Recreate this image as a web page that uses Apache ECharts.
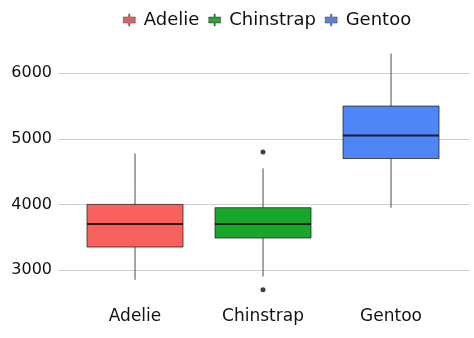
<!DOCTYPE html>
<html>
<head>
<meta charset="utf-8">
<script src="https://cdn.jsdelivr.net/npm/echarts@6/dist/echarts.min.js"></script>
<style>html,body{margin:0;padding:0;background:#fff;}#c{width:474px;height:338px;}</style>
</head>
<body>
<div id="c"></div>
<script>
// Data (Palmer penguins body mass, g)
const species = ['Adelie', 'Chinstrap', 'Gentoo'];
const whiskerLow = [2850, 2900, 3950];
const q1 = [3350, 3487.5, 4700];
const median = [3700, 3700, 5050];
const q3 = [4000, 3950, 5500];
const whiskerHigh = [4775, 4550, 6300];
const outlierSpecies = ['Chinstrap', 'Chinstrap'];
const outlierValues = [4800, 2700];
const yTicks = [3000, 4000, 5000, 6000];
const colors = ['#f8615c', '#17a82b', '#4f86f7'];

const FONT = 'DejaVu Sans';

function renderBox(params, api) {
  const x = api.value(0);
  const lo = api.coord([x, api.value(1)]);
  const b1 = api.coord([x, api.value(2)]);
  const md = api.coord([x, api.value(3)]);
  const b3 = api.coord([x, api.value(4)]);
  const hi = api.coord([x, api.value(5)]);
  const w = api.size([1, 0])[0] * 0.75;
  const cx = lo[0];
  const color = api.visual('color');
  return {
    type: 'group',
    children: [
      {type: 'line', shape: {x1: cx, y1: hi[1], x2: cx, y2: b3[1]}, style: {stroke: '#4a4a4a', lineWidth: 1}},
      {type: 'line', shape: {x1: cx, y1: b1[1], x2: cx, y2: lo[1]}, style: {stroke: '#4a4a4a', lineWidth: 1}},
      {type: 'rect', shape: {x: cx - w / 2, y: b3[1], width: w, height: b1[1] - b3[1]},
        style: {fill: color, stroke: 'rgba(40,30,30,0.75)', lineWidth: 1}},
      {type: 'line', shape: {x1: cx - w / 2, y1: md[1], x2: cx + w / 2, y2: md[1]},
        style: {stroke: 'rgba(20,10,10,0.85)', lineWidth: 2}}
    ]
  };
}

const boxSeries = species.map((s, i) => ({
  name: s,
  type: 'custom',
  xAxisIndex: 1,
  yAxisIndex: 1,
  color: colors[i],
  renderItem: renderBox,
  encode: {x: 0, y: [1, 2, 3, 4, 5]},
  data: [[i, whiskerLow[i], q1[i], median[i], q3[i], whiskerHigh[i]]]
}));

const chart = echarts.init(document.getElementById('c'), null, {renderer: 'canvas'});
chart.setOption({
  backgroundColor: '#fff',
  animation: false,
  legend: {
    data: species,
    left: 118,
    top: 6,
    itemWidth: 13,
    itemHeight: 12,
    itemGap: 9,
    icon: 'path://M5.4,0h1.2v3h5.4v2.6h-12v-2.6h5.4z M0,6.4h12v2.6h-5.4v3h-1.2v-3h-5.4z',
    itemStyle: {borderColor: 'rgba(40,30,30,0.7)', borderWidth: 0.6},
    textStyle: {fontFamily: FONT, fontSize: 18, color: '#111', padding: [0, 0, 0, 3]}
  },
  grid: [
    {left: 58, right: 4, top: 73.3, bottom: 68},
    {left: 71, right: 19, top: 47.07, bottom: 41.8}
  ],
  xAxis: [
    {type: 'value', gridIndex: 0, show: false, min: 0, max: 1},
    {type: 'category', gridIndex: 1, data: species,
      axisLine: {show: false}, axisTick: {show: false}, splitLine: {show: false},
      axisLabel: {fontFamily: FONT, fontSize: 17, color: '#111', margin: 12}}
  ],
  yAxis: [
    {type: 'value', gridIndex: 0, min: yTicks[0], max: yTicks[yTicks.length - 1], interval: 1000,
      axisLine: {show: false}, axisTick: {show: false},
      splitLine: {lineStyle: {color: '#cfcfcf', width: 1}},
      axisLabel: {fontFamily: FONT, fontSize: 16, color: '#111', margin: 6,
        formatter: v => String(v)}},
    {type: 'value', gridIndex: 1, min: 2600, max: 6400, show: false, splitLine: {show: false}}
  ],
  series: boxSeries.concat([{
    name: 'outliers',
    type: 'scatter',
    xAxisIndex: 1,
    yAxisIndex: 1,
    symbolSize: 5,
    itemStyle: {color: '#111'},
    data: outlierSpecies.map((s, i) => [s, outlierValues[i]])
  }])
});
</script>
</body>
</html>
